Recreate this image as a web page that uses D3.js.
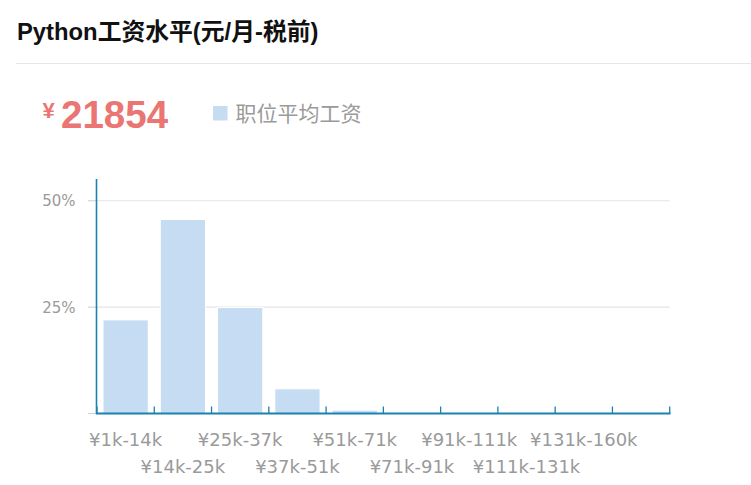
<!DOCTYPE html>
<html>
<head>
<meta charset="utf-8">
<script src="https://cdn.jsdelivr.net/npm/d3@7/dist/d3.min.js"></script>
<style>
  html, body { margin: 0; padding: 0; background: #fff; }
  svg { display: block; }
</style>
</head>
<body>
<script>
// ---- data ----
const categories = ["¥1k-14k", "¥14k-25k", "¥25k-37k", "¥37k-51k", "¥51k-71k",
                    "¥71k-91k", "¥91k-111k", "¥111k-131k", "¥131k-160k", ""];
const values = [22.0, 45.6, 24.9, 5.8, 0.8, 0, 0, 0, 0, 0];
const yTickValues = [25, 50];
const titleText = "Python工资水平(元/月-税前)";
const avgSalary = "21854";
const legendLabel = "职位平均工资";

// ---- layout ----
const W = 751, H = 485;
const svg = d3.select("body").append("svg").attr("width", W).attr("height", H);

const x = d3.scaleBand().domain(d3.range(categories.length)).range([97, 669.7]).padding(0);
const y = d3.scaleLinear().domain([0, 55]).range([413.5, 179.5]);

const axisColor = "#1b82b0";
const barColor = "#c6dcf2";
const gray = "#9a9a9a";

// title
svg.append("text").attr("x", 17).attr("y", 39.5)
  .attr("font-family", "'Liberation Sans', Arial, 'Noto Sans CJK SC', sans-serif")
  .attr("font-weight", "bold").attr("font-size", "23.8px").attr("fill", "#111")
  .text(titleText);
svg.append("line").attr("x1", 16).attr("x2", W).attr("y1", 63.5).attr("y2", 63.5)
  .attr("stroke", "#e6e6e6").attr("stroke-width", 1);

// big number
svg.append("text").attr("x", 42.5).attr("y", 118)
  .attr("font-family", "'Liberation Sans', Arial, sans-serif").attr("font-weight", "bold")
  .attr("font-size", "22px").attr("fill", "#ea7572").text("¥");
svg.append("text").attr("x", 61).attr("y", 128)
  .attr("font-family", "'Liberation Sans', Arial, sans-serif").attr("font-weight", "bold")
  .attr("font-size", "38.5px").attr("fill", "#ea7572").text(avgSalary);

// legend
svg.append("rect").attr("x", 213).attr("y", 106).attr("width", 14.5).attr("height", 14.5).attr("fill", barColor);
svg.append("text").attr("x", 235.5).attr("y", 121)
  .attr("font-family", "'Noto Sans CJK SC', sans-serif").attr("font-size", "21px")
  .attr("fill", gray).text(legendLabel);

// gridlines
const g = svg.append("g");
g.selectAll("line.grid").data([0].concat(yTickValues)).enter().append("line")
  .attr("x1", 97).attr("x2", 669.7)
  .attr("y1", d => y(d)).attr("y2", d => y(d))
  .attr("stroke", "#e4e4e4").attr("stroke-width", 1.2);
g.selectAll("line.ytick").data([0].concat(yTickValues)).enter().append("line")
  .attr("x1", 88).attr("x2", 97)
  .attr("y1", d => y(d)).attr("y2", d => y(d))
  .attr("stroke", "#c9d6e0").attr("stroke-width", 1.2);
g.selectAll("text.ylab").data(yTickValues).enter().append("text")
  .attr("x", 75.5).attr("y", d => y(d) + 5.5)
  .attr("text-anchor", "end")
  .attr("font-family", "'DejaVu Sans', sans-serif").attr("font-size", "15px")
  .attr("fill", gray).text(d => d + "%");

// bars
const step = x.step();
svg.append("g").selectAll("rect").data(values).enter().append("rect")
  .attr("x", (d, i) => x(i) + step * 0.105)
  .attr("width", step * 0.79)
  .attr("y", d => y(d))
  .attr("height", d => y(0) - y(d))
  .attr("fill", barColor)
  .attr("stroke", d => d > 0 ? "#fff" : "none").attr("stroke-width", 1);

// x axis
const ax = svg.append("g");
ax.append("line").attr("x1", 96).attr("x2", 670.5).attr("y1", 413.5).attr("y2", 413.5)
  .attr("stroke", axisColor).attr("stroke-width", 2);
ax.selectAll("line.xt").data(d3.range(categories.length + 1)).enter().append("line")
  .attr("x1", i => i < categories.length ? x(i) : x.range()[1])
  .attr("x2", i => i < categories.length ? x(i) : x.range()[1])
  .attr("y1", 406.5).attr("y2", 413.5)
  .attr("stroke", axisColor).attr("stroke-width", 1.3);
ax.selectAll("text.xl").data(categories).enter().append("text")
  .attr("x", (d, i) => x(i) + step / 2)
  .attr("y", (d, i) => i % 2 === 0 ? 446 : 473)
  .attr("text-anchor", "middle")
  .attr("font-family", "'DejaVu Sans', sans-serif").attr("font-size", "18px")
  .attr("fill", gray).text(d => d);

// y axis
svg.append("line").attr("x1", 96.5).attr("x2", 96.5).attr("y1", 179).attr("y2", 414)
  .attr("stroke", axisColor).attr("stroke-width", 1.6);
</script>
</body>
</html>
